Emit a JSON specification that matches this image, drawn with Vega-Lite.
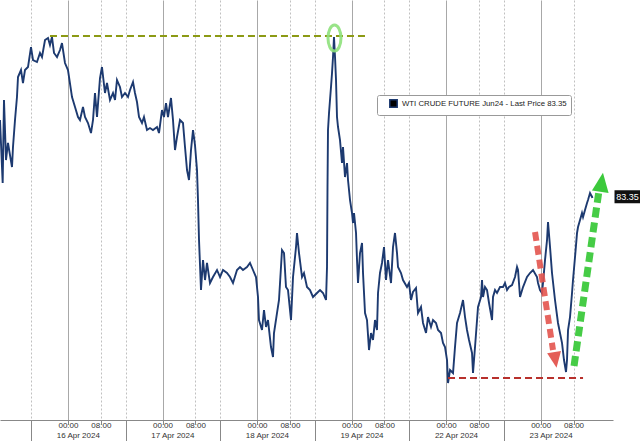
{
  "$schema": "https://vega.github.io/schema/vega-lite/v6.json",
  "autosize": {"type": "none"},
  "width": 613,
  "height": 420,
  "padding": {"left": 0, "top": 0, "right": 27, "bottom": 21},
  "background": "white",
  "config": {"view": {"stroke": null}, "font": "Liberation Sans"},
  "datasets": {
    "price": [
      {"t": -7.54, "v": 84.422}, {"t": -6.89, "v": 83.542}, {"t": -6.57, "v": 84.701}, {"t": -6.08, "v": 83.863},
      {"t": -5.60, "v": 84.101}, {"t": -4.62, "v": 83.765}, {"t": -4.38, "v": 84.045}, {"t": -3.89, "v": 84.422},
      {"t": -3.41, "v": 84.743}, {"t": -3.16, "v": 85.022}, {"t": -2.43, "v": 85.120}, {"t": -1.95, "v": 84.939},
      {"t": -1.46, "v": 85.120}, {"t": -0.73, "v": 85.162}, {"t": 0.0, "v": 85.441}, {"t": 0.49, "v": 85.260},
      {"t": 1.46, "v": 85.232}, {"t": 2.19, "v": 85.358}, {"t": 2.68, "v": 85.302}, {"t": 3.41, "v": 85.539},
      {"t": 4.14, "v": 85.567}, {"t": 4.62, "v": 85.469}, {"t": 5.11, "v": 85.581}, {"t": 5.60, "v": 85.358},
      {"t": 6.33, "v": 85.302}, {"t": 7.06, "v": 85.399}, {"t": 7.54, "v": 85.497}, {"t": 8.27, "v": 85.218},
      {"t": 9.00, "v": 85.120}, {"t": 9.98, "v": 84.743}, {"t": 10.71, "v": 84.603}, {"t": 11.44, "v": 84.464},
      {"t": 11.92, "v": 84.422}, {"t": 12.65, "v": 84.603}, {"t": 13.14, "v": 84.464}, {"t": 13.87, "v": 84.380},
      {"t": 14.60, "v": 84.240}, {"t": 15.09, "v": 84.422}, {"t": 15.57, "v": 84.799}, {"t": 16.06, "v": 84.464},
      {"t": 16.79, "v": 85.008}, {"t": 17.27, "v": 85.162}, {"t": 18.00, "v": 84.799}, {"t": 18.49, "v": 84.939},
      {"t": 19.22, "v": 84.701}, {"t": 19.95, "v": 84.799}, {"t": 20.44, "v": 84.701}, {"t": 20.92, "v": 84.980},
      {"t": 21.65, "v": 84.883}, {"t": 22.14, "v": 84.743}, {"t": 22.87, "v": 84.799}, {"t": 23.60, "v": 84.743},
      {"t": 24.09, "v": 84.841}, {"t": 24.82, "v": 84.953}, {"t": 25.30, "v": 84.799}, {"t": 25.79, "v": 84.673},
      {"t": 26.28, "v": 84.464}, {"t": 27.01, "v": 84.380}, {"t": 27.49, "v": 84.464}, {"t": 28.22, "v": 84.282},
      {"t": 28.95, "v": 84.310}, {"t": 29.68, "v": 84.282}, {"t": 30.66, "v": 84.324}, {"t": 31.14, "v": 84.240},
      {"t": 31.87, "v": 84.561}, {"t": 32.36, "v": 84.464}, {"t": 32.85, "v": 84.659}, {"t": 33.33, "v": 84.464},
      {"t": 34.06, "v": 84.729}, {"t": 34.55, "v": 84.422}, {"t": 35.04, "v": 84.003}, {"t": 35.52, "v": 84.184},
      {"t": 36.25, "v": 84.422}, {"t": 36.98, "v": 84.380}, {"t": 37.47, "v": 84.045}, {"t": 37.96, "v": 83.723},
      {"t": 38.44, "v": 83.584}, {"t": 38.93, "v": 84.003}, {"t": 39.42, "v": 84.282}, {"t": 39.90, "v": 84.073},
      {"t": 40.39, "v": 83.723}, {"t": 40.63, "v": 83.304}, {"t": 40.88, "v": 82.746}, {"t": 41.36, "v": 82.047},
      {"t": 41.85, "v": 82.466}, {"t": 42.34, "v": 82.187}, {"t": 42.82, "v": 82.425}, {"t": 43.55, "v": 82.145},
      {"t": 44.28, "v": 82.229}, {"t": 45.26, "v": 82.327}, {"t": 45.99, "v": 82.229}, {"t": 46.72, "v": 82.327},
      {"t": 47.69, "v": 82.285}, {"t": 48.42, "v": 82.229}, {"t": 49.15, "v": 82.145}, {"t": 50.12, "v": 82.327},
      {"t": 50.85, "v": 82.369}, {"t": 51.58, "v": 82.327}, {"t": 52.55, "v": 82.369}, {"t": 53.28, "v": 82.425},
      {"t": 54.01, "v": 82.327}, {"t": 54.74, "v": 82.229}, {"t": 55.23, "v": 81.950}, {"t": 55.47, "v": 81.628},
      {"t": 56.20, "v": 81.489}, {"t": 56.69, "v": 81.768}, {"t": 57.18, "v": 81.531}, {"t": 57.66, "v": 81.628},
      {"t": 58.39, "v": 81.251}, {"t": 58.88, "v": 81.112}, {"t": 59.12, "v": 81.447}, {"t": 59.85, "v": 81.726},
      {"t": 60.34, "v": 81.908}, {"t": 61.07, "v": 82.606}, {"t": 61.56, "v": 82.564}, {"t": 62.04, "v": 82.089},
      {"t": 62.53, "v": 82.047}, {"t": 63.26, "v": 81.628}, {"t": 63.75, "v": 82.229}, {"t": 64.48, "v": 82.648},
      {"t": 64.72, "v": 82.844}, {"t": 65.21, "v": 82.564}, {"t": 65.94, "v": 82.229}, {"t": 66.42, "v": 82.285},
      {"t": 67.15, "v": 82.089}, {"t": 67.88, "v": 82.047}, {"t": 68.61, "v": 81.950}, {"t": 69.59, "v": 82.006},
      {"t": 70.32, "v": 82.047}, {"t": 71.05, "v": 82.006}, {"t": 71.78, "v": 81.908}, {"t": 72.02, "v": 82.369},
      {"t": 72.14, "v": 83.486}, {"t": 72.26, "v": 84.282}, {"t": 72.51, "v": 84.520}, {"t": 72.99, "v": 84.883},
      {"t": 73.24, "v": 85.078}, {"t": 73.48, "v": 85.302}, {"t": 73.72, "v": 85.581}, {"t": 73.97, "v": 85.302},
      {"t": 74.21, "v": 84.980}, {"t": 74.45, "v": 84.464}, {"t": 74.70, "v": 84.324}, {"t": 75.18, "v": 84.142},
      {"t": 75.67, "v": 83.821}, {"t": 75.91, "v": 84.045}, {"t": 76.40, "v": 83.626}, {"t": 76.89, "v": 83.821},
      {"t": 77.13, "v": 83.584}, {"t": 77.62, "v": 83.304}, {"t": 78.10, "v": 83.123}, {"t": 78.35, "v": 82.983},
      {"t": 78.59, "v": 83.123}, {"t": 79.08, "v": 82.844}, {"t": 79.32, "v": 82.466}, {"t": 79.56, "v": 82.145},
      {"t": 80.05, "v": 82.564}, {"t": 80.54, "v": 82.704}, {"t": 80.78, "v": 82.285}, {"t": 81.27, "v": 81.726},
      {"t": 81.75, "v": 81.628}, {"t": 82.24, "v": 81.209}, {"t": 82.73, "v": 81.447}, {"t": 83.21, "v": 81.349},
      {"t": 83.70, "v": 81.628}, {"t": 84.18, "v": 81.489}, {"t": 84.43, "v": 82.006}, {"t": 84.91, "v": 82.285},
      {"t": 85.40, "v": 82.425}, {"t": 85.89, "v": 82.648}, {"t": 86.37, "v": 82.187}, {"t": 86.86, "v": 82.466},
      {"t": 87.59, "v": 82.145}, {"t": 88.08, "v": 82.648}, {"t": 88.56, "v": 82.844}, {"t": 89.05, "v": 82.564},
      {"t": 89.29, "v": 82.369}, {"t": 90.02, "v": 82.285}, {"t": 90.51, "v": 82.187}, {"t": 91.48, "v": 82.089},
      {"t": 91.97, "v": 82.145}, {"t": 92.46, "v": 81.908}, {"t": 92.94, "v": 82.020}, {"t": 93.67, "v": 82.075},
      {"t": 94.16, "v": 81.726}, {"t": 94.89, "v": 81.810}, {"t": 95.38, "v": 81.587}, {"t": 96.11, "v": 81.447},
      {"t": 96.59, "v": 81.670}, {"t": 97.32, "v": 81.531}, {"t": 97.81, "v": 81.628}, {"t": 98.54, "v": 81.587},
      {"t": 99.03, "v": 81.489}, {"t": 99.76, "v": 81.447}, {"t": 100.24, "v": 81.307}, {"t": 100.73, "v": 81.251},
      {"t": 101.22, "v": 81.070}, {"t": 101.46, "v": 80.749}, {"t": 101.95, "v": 80.930}, {"t": 102.68, "v": 80.888},
      {"t": 103.16, "v": 81.251}, {"t": 103.65, "v": 81.587}, {"t": 104.38, "v": 81.726}, {"t": 105.11, "v": 81.908},
      {"t": 105.60, "v": 81.670}, {"t": 106.08, "v": 81.489}, {"t": 106.57, "v": 81.349}, {"t": 107.30, "v": 81.168},
      {"t": 107.54, "v": 80.888}, {"t": 108.03, "v": 81.251}, {"t": 108.52, "v": 81.628}, {"t": 108.76, "v": 81.810},
      {"t": 109.49, "v": 81.950}, {"t": 109.73, "v": 82.187}, {"t": 109.98, "v": 81.950}, {"t": 110.46, "v": 82.089},
      {"t": 110.95, "v": 82.047}, {"t": 111.44, "v": 81.866}, {"t": 112.17, "v": 81.628}, {"t": 112.41, "v": 81.950},
      {"t": 112.90, "v": 82.047}, {"t": 113.38, "v": 82.006}, {"t": 114.11, "v": 82.089}, {"t": 114.84, "v": 82.089},
      {"t": 115.33, "v": 82.145}, {"t": 115.82, "v": 82.047}, {"t": 116.30, "v": 82.089}, {"t": 117.03, "v": 82.117},
      {"t": 117.76, "v": 82.229}, {"t": 118.25, "v": 82.369}, {"t": 118.49, "v": 82.327}, {"t": 118.98, "v": 81.950},
      {"t": 119.71, "v": 82.089}, {"t": 120.68, "v": 82.229}, {"t": 121.41, "v": 82.285}, {"t": 122.14, "v": 82.327},
      {"t": 123.11, "v": 82.229}, {"t": 123.36, "v": 82.145}, {"t": 123.84, "v": 82.047}, {"t": 124.33, "v": 82.006},
      {"t": 124.57, "v": 82.145}, {"t": 125.06, "v": 82.466}, {"t": 125.55, "v": 82.746}, {"t": 125.79, "v": 82.997},
      {"t": 126.28, "v": 82.648}, {"t": 126.76, "v": 82.285}, {"t": 127.49, "v": 81.908}, {"t": 128.22, "v": 81.587},
      {"t": 129.20, "v": 81.307}, {"t": 129.68, "v": 81.070}, {"t": 130.17, "v": 80.902}, {"t": 130.41, "v": 81.070},
      {"t": 130.66, "v": 81.489}, {"t": 131.14, "v": 81.670}, {"t": 131.63, "v": 82.006}, {"t": 131.87, "v": 82.187},
      {"t": 132.36, "v": 82.508}, {"t": 132.85, "v": 82.844}, {"t": 133.09, "v": 82.927}, {"t": 133.58, "v": 83.025},
      {"t": 134.06, "v": 83.123}, {"t": 134.31, "v": 83.067}, {"t": 134.79, "v": 83.165}, {"t": 135.28, "v": 83.263},
      {"t": 135.52, "v": 83.304}, {"t": 136.01, "v": 83.402}, {"t": 136.50, "v": 83.346}, {"t": 136.74, "v": 83.35}
    ],
    "olive": [{"t": 4.62, "v": 85.595}, {"t": 81.27, "v": 85.595}],
    "redline": [{"t": 101.46, "v": 80.82}, {"t": 134.31, "v": 80.82}],
    "redshaft": [{"t": 122.63, "v": 82.858}, {"t": 127.0, "v": 81.209}],
    "redhead": [{"t": 127.49, "v": 81.098}],
    "greenshaft": [{"t": 132.12, "v": 80.986}, {"t": 138.1, "v": 83.40}],
    "greenhead": [{"t": 138.75, "v": 83.52}],
    "circle": [{"t": 73.84, "v": 85.567}],
    "last": [{"t": 145.13, "v": 83.35, "label": "83.35"}]
  },
  "layer": [
    {
      "data": {"name": "price"},
      "mark": {"type": "line", "strokeWidth": 1.9},
      "encoding": {
        "x": {
          "field": "t", "type": "quantitative",
          "scale": {"domain": [-7.54, 141.6], "nice": false, "zero": false},
          "axis": {
            "orient": "bottom", "title": null,
            "values": [9, 17, 32, 40, 55, 63, 78, 86, 101, 109, 124, 132],
            "labelExpr": "((datum.value - 9) % 23 == 0) ? '00:00' : '08:00'",
            "grid": true,
            "gridColor": {"condition": {"test": "(datum.value - 9) % 23 == 0", "value": "#a8a8a8"}, "value": "#c0c0c0"},
            "gridDash": {"condition": {"test": "(datum.value - 9) % 23 == 0", "value": []}, "value": [2, 2]},
            "gridWidth": 1,
            "tickSize": 4, "tickColor": "#888", "domainColor": "#888",
            "labelFontSize": 8, "labelColor": "#333", "labelPadding": -3,
            "labelFlush": false, "labelOverlap": false
          }
        },
        "y": {
          "field": "v", "type": "quantitative",
          "scale": {"domain": [80.232, 86.098], "nice": false, "zero": false},
          "axis": {
            "orient": "right", "title": null,
            "values": [80.5, 81, 81.5, 82, 82.5, 83, 83.5, 84, 84.5, 85, 85.5, 86],
            "labelExpr": "datum.value % 1 == 0 ? format(datum.value, '.2f') : ''",
            "grid": true,
            "gridOpacity": {"condition": {"test": "datum.value % 1 == 0", "value": 1}, "value": 0},
            "gridColor": "#c0c0c0", "gridDash": [2, 3],
            "tickSize": 4, "tickColor": "#888", "domainColor": "#888",
            "labelFontSize": 9, "labelColor": "#444", "labelPadding": 1,
            "labelFlush": false, "labelOverlap": false
          }
        },
        "color": {
          "datum": "WTI CRUDE FUTURE Jun24 - Last Price 83.35",
          "scale": {"range": ["#1d3a70"]},
          "legend": {
            "orient": "none", "legendX": 377, "legendY": 95, "title": null,
            "symbolType": "square", "symbolSize": 55,
            "labelFontSize": 7.8, "labelColor": "#222", "labelLimit": 300,
            "strokeColor": "#999", "fillColor": "#ffffff", "padding": 4, "cornerRadius": 2,
            "symbolOffset": 8,
            "encode": {"symbols": {"update": {"fill": {"value": "#000000"}, "stroke": {"value": "#000000"}}}}
          }
        }
      }
    },
    {
      "data": {"name": "olive"},
      "mark": {"type": "line", "color": "#8c9a14", "strokeWidth": 2, "strokeDash": [7, 4]},
      "encoding": {
        "x": {
          "field": "t", "type": "quantitative",
          "axis": {
            "orient": "bottom", "title": null, "domain": false,
            "values": [0, 11.4, 23, 34.4, 46, 57.4, 69, 80.4, 92, 103.4, 115, 126.4],
            "labelExpr": "datum.value % 23 == 0 ? '' : ['16 Apr 2024','17 Apr 2024','18 Apr 2024','19 Apr 2024','22 Apr 2024','23 Apr 2024'][floor(datum.value / 23)]",
            "grid": true,
            "gridOpacity": {"condition": {"test": "datum.value % 23 == 0", "value": 1}, "value": 0},
            "gridColor": "#c0c0c0", "gridDash": [2, 2],
            "tickSize": 21, "tickColor": "#888",
            "tickOpacity": {"condition": {"test": "datum.value % 23 == 0", "value": 1}, "value": 0},
            "labelFontSize": 8, "labelColor": "#333", "labelPadding": -10,
            "labelFlush": false, "labelOverlap": false
          }
        },
        "y": {"field": "v", "type": "quantitative", "axis": null}
      }
    },
    {
      "data": {"name": "redline"},
      "mark": {"type": "line", "color": "#b8302c", "strokeWidth": 2, "strokeDash": [7, 4]},
      "encoding": {
        "x": {"field": "t", "type": "quantitative", "axis": null},
        "y": {"field": "v", "type": "quantitative", "axis": null}
      }
    },
    {
      "data": {"name": "redshaft"},
      "mark": {"type": "line", "color": "#e3544e", "strokeWidth": 6, "strokeDash": [9, 5], "opacity": 0.9},
      "encoding": {
        "x": {"field": "t", "type": "quantitative", "axis": null},
        "y": {"field": "v", "type": "quantitative", "axis": null}
      }
    },
    {
      "data": {"name": "redhead"},
      "mark": {"type": "point", "shape": "M0,1 L0.7,-0.6 L-0.7,-0.6 Z", "size": 400, "angle": -9, "filled": true, "color": "#e3544e", "opacity": 0.95},
      "encoding": {
        "x": {"field": "t", "type": "quantitative", "axis": null},
        "y": {"field": "v", "type": "quantitative", "axis": null}
      }
    },
    {
      "data": {"name": "greenshaft"},
      "mark": {"type": "line", "color": "#3cc93c", "strokeWidth": 7, "strokeDash": [10, 5], "opacity": 0.95},
      "encoding": {
        "x": {"field": "t", "type": "quantitative", "axis": null},
        "y": {"field": "v", "type": "quantitative", "axis": null}
      }
    },
    {
      "data": {"name": "greenhead"},
      "mark": {"type": "point", "shape": "M0,-1 L0.7,0.6 L-0.7,0.6 Z", "size": 576, "angle": 8, "filled": true, "color": "#3cc93c", "opacity": 1},
      "encoding": {
        "x": {"field": "t", "type": "quantitative", "axis": null},
        "y": {"field": "v", "type": "quantitative", "axis": null}
      }
    },
    {
      "data": {"name": "circle"},
      "mark": {"type": "point", "shape": "M0,-1 C0.276,-1 0.5,-0.552 0.5,0 C0.5,0.552 0.276,1 0,1 C-0.276,1 -0.5,0.552 -0.5,0 C-0.5,-0.552 -0.276,-1 0,-1 Z", "size": 676, "filled": false, "stroke": "#8ee27c", "strokeWidth": 3, "opacity": 0.9},
      "encoding": {
        "x": {"field": "t", "type": "quantitative", "axis": null},
        "y": {"field": "v", "type": "quantitative", "axis": null}
      }
    },
    {
      "data": {"name": "last"},
      "mark": {"type": "point", "shape": "M-1,-0.5 L1,-0.5 L1,0.5 L-1,0.5 Z", "size": 676, "filled": true, "color": "#111111", "opacity": 1},
      "encoding": {
        "x": {"field": "t", "type": "quantitative", "axis": null},
        "y": {"field": "v", "type": "quantitative", "axis": null}
      }
    },
    {
      "data": {"name": "last"},
      "mark": {"type": "text", "color": "#ffffff", "fontSize": 9, "align": "center", "baseline": "middle"},
      "encoding": {
        "x": {"field": "t", "type": "quantitative", "axis": null},
        "y": {"field": "v", "type": "quantitative", "axis": null},
        "text": {"field": "label"}
      }
    }
  ],
  "resolve": {"axis": {"x": "independent"}}
}
